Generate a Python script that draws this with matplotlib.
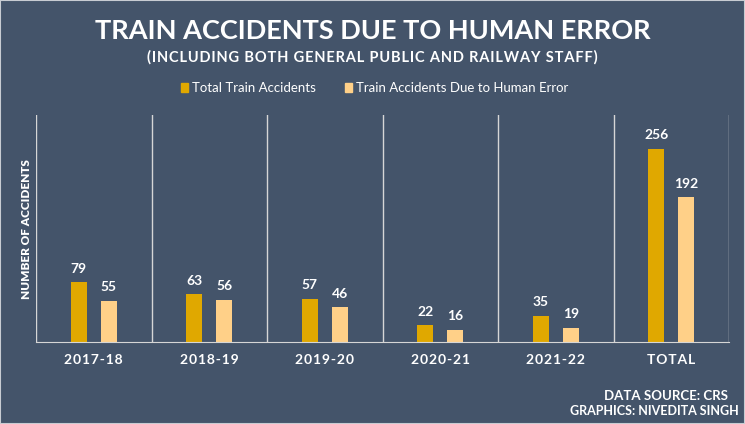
import matplotlib
matplotlib.use("Agg")
import matplotlib.pyplot as plt
import matplotlib.patches as patches
import numpy as np

# Dati
years = ["2017-18", "2018-19", "2019-20", "2020-21", "2021-22", "TOTAL"]
total_accidents = [79, 63, 57, 22, 35, 256]
human_error = [55, 56, 46, 16, 19, 192]
series_names = ["Total Train Accidents", "Train Accidents Due to Human Error"]

BG = "#44546A"
GOLD = "#E0A800"
LIGHT = "#FFD088"
GRID = "#D6D6D6"
FONT = ["Lato", "DejaVu Sans"]


def spaced(s, sep="\u200a"):
    # spaziatura tra lettere simulata con hair space
    return sep.join(s)


fig = plt.figure(figsize=(7.45, 4.24), dpi=100, facecolor=BG)
ax = fig.add_axes([36 / 745, 1 - 342 / 424, 693 / 745, 227 / 424])
ax.set_facecolor(BG)

x = np.arange(len(years))
w = 0.138
off = 0.13
ax.bar(x - off, total_accidents, width=w, color=GOLD)
ax.bar(x + off, human_error, width=w, color=LIGHT)

for xi, v in zip(x, total_accidents):
    ax.text(xi - off, v + 10, str(v), ha="center", va="bottom",
            color="white", fontsize=10, fontweight="bold", family=FONT)
for xi, v in zip(x, human_error):
    ax.text(xi + off, v + 10, str(v), ha="center", va="bottom",
            color="white", fontsize=10, fontweight="bold", family=FONT)

# separatori verticali
for b in np.arange(-0.5, len(years) + 0.5, 1):
    ax.axvline(b, color=GRID, linewidth=1, zorder=0)

ax.set_xlim(-0.5, len(years) - 0.5)
ax.set_ylim(0, 301)
for s in ["top", "right", "left"]:
    ax.spines[s].set_visible(False)
ax.spines["bottom"].set_color(GRID)
ax.set_yticks([])
ax.set_xticks(x)
ax.set_xticklabels([spaced(y) for y in years],
                   color="white", fontsize=10, fontweight="bold", family=FONT)
ax.tick_params(axis="x", length=0, pad=9)

fig.text(27 / 745, 1 - 229 / 424, "NUMBER OF ACCIDENTS", rotation=90,
         ha="center", va="center", color="white", fontsize=8.5,
         fontweight="heavy", family=FONT)

# titolo e sottotitolo
fig.text(0.5, 1 - 31 / 424, "TRAIN ACCIDENTS DUE TO HUMAN ERROR",
         ha="center", va="center", color="white", fontsize=19.5,
         fontweight="bold", family=FONT)
fig.text(0.5, 1 - 57 / 424,
         spaced("(INCLUDING BOTH GENERAL PUBLIC AND RAILWAY STAFF)"),
         ha="center", va="center", color="white", fontsize=10.5,
         fontweight="bold", family=FONT)

# legenda manuale
leg_y = 1 - 88 / 424
for xpos, name, col in [(181, series_names[0], GOLD), (345, series_names[1], LIGHT)]:
    fig.patches.append(patches.Rectangle((xpos / 745, leg_y - 4.5 / 424), 7 / 745, 9 / 424,
                                         transform=fig.transFigure, color=col))
    fig.text((xpos + 11) / 745, leg_y, name, ha="left", va="center",
             color="white", fontsize=9.5, family=FONT)

# fonte
fig.text(728 / 745, 1 - 396 / 424, "DATA SOURCE: CRS", ha="right", va="center",
         color="white", fontsize=9.5, fontweight="bold", family=FONT)
fig.text(739 / 745, 1 - 411 / 424, "GRAPHICS: NIVEDITA SINGH", ha="right", va="center",
         color="white", fontsize=9, fontweight="bold", family=FONT)

# bordo
fig.patches.append(patches.Rectangle((0, 0), 1, 1, transform=fig.transFigure,
                                     fill=False, edgecolor="#C8CCD2", linewidth=1.5))

fig.savefig("out.png", dpi=100, facecolor=BG)
